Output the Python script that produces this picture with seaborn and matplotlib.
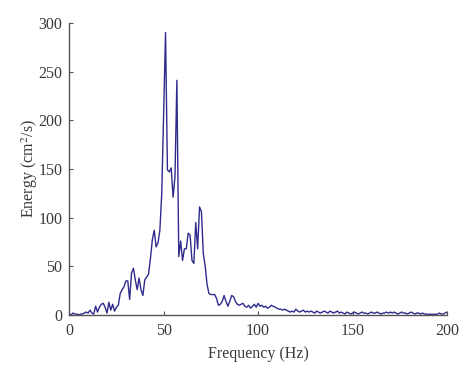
import matplotlib
matplotlib.use("Agg")
import matplotlib.pyplot as plt
import seaborn as sns
import pandas as pd

freq = list(range(0, 201))
energy = [
    1, 0, 2, 1, 1, 0, 1, 1, 2, 3,          # 0-9
    2, 5, 2, 1, 9, 3, 8, 11, 12, 8,        # 10-19
    2, 13, 5, 11, 4, 8, 10, 22, 26, 29,    # 20-29
    35, 35, 16, 43, 48, 36, 26, 38, 26, 20,  # 30-39
    36, 39, 42, 58, 77, 87, 70, 74, 87, 125,  # 40-49
    210, 290, 149, 147, 151, 121, 142, 241, 60, 76,  # 50-59
    56, 68, 68, 84, 82, 56, 53, 95, 68, 111,  # 60-69
    106, 63, 50, 31, 22, 21, 21, 21, 17, 10,  # 70-79
    11, 14, 20, 14, 9, 14, 20, 19, 14, 11,  # 80-89
    10, 11, 12, 9, 8, 10, 7, 9, 11, 8,     # 90-99
    12, 9, 10, 8, 9, 7, 8, 10, 9, 8,       # 100-109
    7, 6, 6, 5, 6, 5, 4, 3, 4, 3,          # 110-119
    6, 4, 3, 4, 5, 3, 4, 3, 4, 3,          # 120-129
    2, 4, 3, 2, 3, 4, 3, 2, 4, 3,          # 130-139
    2, 3, 4, 2, 3, 2, 1, 3, 2, 1,          # 140-149
    2, 3, 2, 1, 2, 3, 2, 2, 1, 2,          # 150-159
    3, 2, 2, 3, 2, 1, 2, 2, 3, 2,          # 160-169
    3, 2, 3, 2, 1, 2, 3, 2, 2, 1,          # 170-179
    2, 3, 2, 1, 2, 2, 1, 2, 1, 1,          # 180-189
    0.5, 1, 0.5, 1, 0.5, 1, 2, 1, 1, 2,    # 190-199
    3,                                     # 200
]
xticks = [0, 50, 100, 150, 200]
yticks = [0, 50, 100, 150, 200, 250, 300]

sns.set_style("ticks")
plt.rcParams["font.family"] = ["Liberation Serif", "DejaVu Serif"]
plt.rcParams["mathtext.fontset"] = "stix"

df = pd.DataFrame({"Frequency": freq, "Energy": energy})

fig = plt.figure(figsize=(4.74, 3.75), dpi=100)
ax = fig.add_axes([0.146, 0.16, 0.797, 0.779])
sns.lineplot(data=df, x="Frequency", y="Energy", ax=ax, color="#2f2b8c", linewidth=1.0)

ax.set_xlim(0, 200)
ax.set_ylim(0, 300)
ax.set_xticks(xticks)
ax.set_yticks(yticks)
ax.tick_params(direction="in", length=3, width=0.8, colors="#555555",
               labelcolor="#3a3a3a", labelsize=11.5)
ax.tick_params(axis="x", pad=6)
ax.tick_params(axis="y", pad=5)
for s in ["top", "right"]:
    ax.spines[s].set_visible(False)
for s in ["left", "bottom"]:
    ax.spines[s].set_color("#555555")
    ax.spines[s].set_linewidth(1.0)
ax.set_xlabel("Frequency (Hz)", fontsize=11.5, color="#3a3a3a", labelpad=5)
ax.set_ylabel("Energy (cm$^2$/s)", fontsize=11.5, color="#3a3a3a", labelpad=-1)

fig.savefig("out.png", dpi=100)
